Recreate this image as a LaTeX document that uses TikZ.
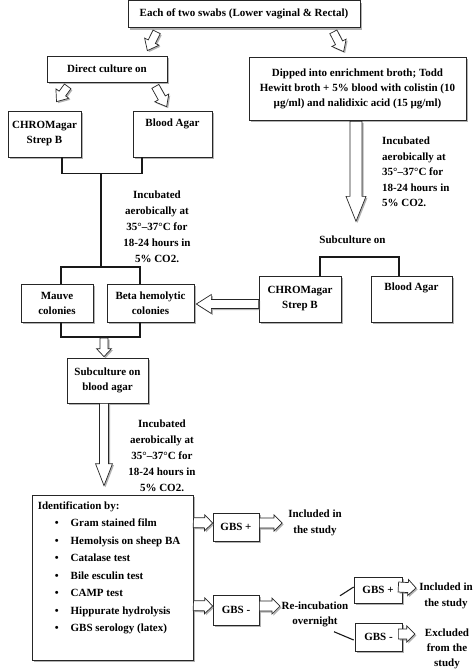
\documentclass[tikz,border=0pt]{standalone}
\usepackage{fontspec}
\setmainfont{Liberation Serif}
\usetikzlibrary{calc,shadows}

\tikzset{
  box/.style={draw=black!85, fill=white, line width=0.7pt, align=center, inner sep=1pt,
    drop shadow={shadow xshift=2pt, shadow yshift=-2pt, fill=black!60, opacity=.5}},
  txt/.style={align=center, inner sep=0pt},
  bracket/.style={line width=1.5pt, draw=black!90},
  link/.style={line width=1.1pt, draw=black!90},
  fatarrow/.style={draw=black!85, fill=white, line width=0.7pt,
    drop shadow={shadow xshift=1.5pt, shadow yshift=-1.5pt, fill=black!60, opacity=.5}}
}

% hollow arrow: from, to, shaft half width, head half width, head length
\newcommand{\fatarrow}[5]{%
  \filldraw[fatarrow] let \p1=(#1), \p2=(#2),
      \n1={atan2(\y2-\y1,\x2-\x1)}, \n2={veclen(\x2-\x1,\y2-\y1)} in
    [shift={(\p1)}, rotate=\n1]
    (0pt,-#3) -- ({\n2-#5},-#3) -- ({\n2-#5},-#4) -- ({\n2+0pt},0pt)
    -- ({\n2-#5},#4) -- ({\n2-#5},#3) -- (0pt,#3) -- cycle;
}
\newcommand{\idline}[1]{\hspace*{17pt}\textbullet\hspace*{12pt}#1}

\begin{document}
\begin{tikzpicture}[x=1pt, y=-1pt, font=\bfseries\fontsize{11}{15}\selectfont]
	\useasboundingbox (0,0) rectangle (474,672);

	% boxes
	\node (swabs) [box, minimum width=232pt, minimum height=27pt] at (244,14) {Each of two swabs (Lower vaginal \& Rectal)};
	\node (direct) [box, minimum width=120pt, minimum height=26pt] at (107,69) {Direct culture on};
	\node (broth) [box, minimum width=217pt, minimum height=63pt] at (357.5,88.5)
		{Dipped into enrichment broth; Todd\\Hewitt broth + 5\% blood with colistin (10\\µg/ml) and nalidixic acid (15 µg/ml)};
	\node (chromA) [box, minimum width=73pt, minimum height=46pt] at (44.5,134) {CHROMagar\\Strep B};
	\node (bloodA) [box, minimum width=79pt, minimum height=46pt, text depth=22pt] at (172.5,134) {Blood Agar};
	\node (mauve) [box, minimum width=72pt, minimum height=38pt] at (57,303) {Mauve\\colonies};
	\node (beta) [box, minimum width=87pt, minimum height=38pt] at (150.5,303) {Beta hemolytic\\colonies};
	\node (chromB) [box, minimum width=82pt, minimum height=46pt] at (300,299) {CHROMagar\\Strep B};
	\node (bloodB) [box, minimum width=81pt, minimum height=46pt, text depth=24pt] at (411.5,299) {Blood Agar};
	\node (subBA) [box, minimum width=81pt, minimum height=45pt] at (107.5,380.5) {Subculture on\\blood agar};
	\node (ident) [box, minimum width=161pt, minimum height=165pt] at (112.5,577.5) {};
	\node (gbsP) [box, minimum width=46pt, minimum height=28pt] at (236,527) {GBS +};
	\node (gbsM) [box, minimum width=46pt, minimum height=30pt] at (236,610) {GBS -};
	\node (gbsP2) [box, minimum width=48pt, minimum height=26pt] at (378,590) {GBS +};
	\node (gbsM2) [box, minimum width=47pt, minimum height=28pt] at (378.5,637) {GBS -};

	% texts
	\node (idlist) [txt, align=left, anchor=north west, font=\bfseries\fontsize{11}{17.5}\selectfont]
		at ($(ident.north west)+(6,6.5)$) {Identification by:\\\idline{Gram stained film}\\\idline{Hemolysis on sheep BA}\\
		\idline{Catalase test}\\\idline{Bile esculin test}\\\idline{CAMP test}\\\idline{Hippurate hydrolysis}\\\idline{GBS serology (latex)}};
	\node (inc1) [txt, font=\bfseries\fontsize{11}{16}\selectfont] at (157,227) {Incubated\\aerobically at\\35°–37°C for\\18-24 hours in\\5\% CO2.};
	\node (inc2) [txt, align=left, anchor=west, font=\bfseries\fontsize{11}{15.5}\selectfont] at (382,172) {Incubated\\aerobically at\\35°–37°C for\\18-24 hours in\\5\% CO2.};
	\node (inc3) [txt, font=\bfseries\fontsize{11}{16}\selectfont] at (162,456) {Incubated\\aerobically at\\35°–37°C for\\18-24 hours in\\5\% CO2.};
	\node (sublabel) [txt] at (352.5,240) {Subculture on};
	\node (incl1) [txt, font=\bfseries\fontsize{11}{16}\selectfont] at (315,523) {Included in\\the study};
	\node (reinc) [txt] at (315,614.5) {Re-incubation\\overnight};
	\node (incl2) [txt, font=\bfseries\fontsize{11}{16}\selectfont] at (446,596) {Included in\\the study};
	\node (excl) [txt] at (447,649) {Excluded\\from the\\study};

	% brackets
	\coordinate (split1) at (101,173);
	\coordinate (join1) at (101,267);
	\coordinate (join2) at (104,337);
	\coordinate (split2) at (352,257);
	\draw[bracket] ($(chromA.south)+(17.5,0)$) -- ++(0,16) -| ($(bloodA.south)+(-30.5,0)$);
	\draw[bracket] (split1) -- (join1);
	\draw[bracket] ($(mauve.north)+(4,0)$) |- (join1) -| ($(beta.north)+(-10.5,0)$);
	\draw[bracket] ($(mauve.south)+(4,0)$) |- (join2) -| ($(beta.south)+(-10.5,0)$);
	\draw[bracket] ($(chromB.north)+(20,0)$) |- (split2) -| ($(bloodB.north)+(-12.5,0)$);
	\draw[link] ($(reinc.north east)+(-8.5,-6)$) -- ($(gbsP2.west)+(0,-3)$);
	\draw[link] ($(reinc.south east)+(-14.5,4.5)$) -- ($(gbsM2.west)+(-1,3)$);

	% hollow arrows
	\fatarrow{$(swabs.south west)+(29,4)$}{$(direct.north east)+(-20,-5)$}{4pt}{8pt}{10pt}
	\fatarrow{$(swabs.south east)+(-27,4)$}{$(broth.north west)+(95,-5)$}{4pt}{8pt}{10pt}
	\fatarrow{$(direct.south west)+(21,4)$}{$(chromA.north)+(12,-9)$}{4pt}{8pt}{10pt}
	\fatarrow{$(direct.south east)+(-12,4)$}{$(bloodA.north west)+(34,-4)$}{4pt}{8pt}{10pt}
	\fatarrow{$(broth.south)+(-1.5,1)$}{$(broth.south)+(-1.5,101)$}{6pt}{10pt}{25pt}
	\fatarrow{$(chromB.west)+(0,5)$}{$(beta.east)+(2,1)$}{4.5pt}{9.5pt}{15pt}
	\fatarrow{$(join2)+(0,1)$}{$(subBA.north)+(-3.5,-1)$}{4pt}{7.5pt}{8pt}
	\fatarrow{$(subBA.south)+(-3.5,0)$}{$(ident.north)+(-8.5,-9)$}{4.5pt}{8.5pt}{22pt}
	\fatarrow{$(ident.north east)+(0,28)$}{$(gbsP.west)+(0,-4)$}{5pt}{8pt}{8pt}
	\fatarrow{$(gbsP.east)+(0,-4)$}{$(incl1.west)+(-6,0)$}{5pt}{8pt}{8pt}
	\fatarrow{$(ident.north east)+(0,111)$}{$(gbsM.west)+(0,-4)$}{5pt}{8pt}{8pt}
	\fatarrow{$(gbsM.east)+(0,-4)$}{$(reinc.west)+(-1.5,-8.5)$}{5pt}{8pt}{8pt}
	\fatarrow{$(gbsP2.east)+(-4,-3)$}{$(incl2.west)+(-3,-8)$}{5pt}{8pt}{8pt}
	\fatarrow{$(gbsM2.east)+(-4,-3)$}{$(excl.west)+(-10,-15)$}{5pt}{8pt}{8pt}

\end{tikzpicture}
\end{document}
